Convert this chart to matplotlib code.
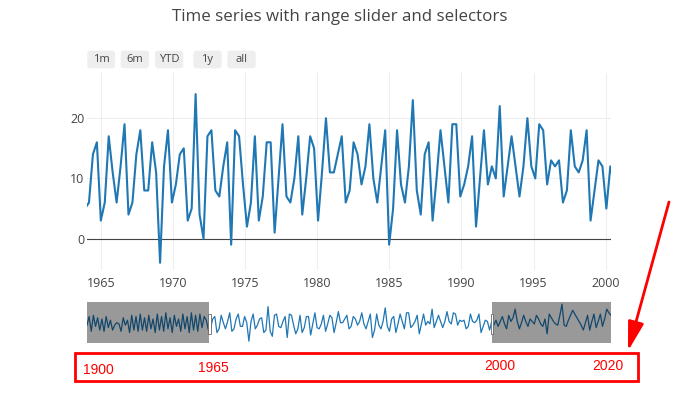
import matplotlib
matplotlib.use("Agg")
import matplotlib.pyplot as plt
import matplotlib.transforms as mtransforms
from matplotlib.patches import FancyBboxPatch, Rectangle, FancyArrowPatch
import numpy as np
import pandas as pd

plt.rcParams['font.family'] = ['Open Sans', 'DejaVu Sans']

# ---------------- data ----------------
title = "Time series with range slider and selectors"
start_date = "1948-04-22"
step = "100D"
values_early = [9, 16, 4, 17, 8, 15, 5, 14, 4, 16, 7, 13, 5, 9, 11, 10, 4, 15, 9, 13,
                3, 17, 5, 16, 4, 18, 5, 15, 4, 17, 6, 14, 3, 18, 5, 16, 4, 19, 6, 15,
                3, 17, 8, 14, 4, 18, 6, 16, 3, 19, 5, 17, 4, 18, 7, 16, 13, 5]
values_view = [6, 14, 16, 3, 6, 17, 11, 6, 12, 19, 4, 6, 14, 18, 8, 8, 16, 11, -4, 12,
               18, 6, 9, 14, 15, 3, 5, 24, 4, 0, 17, 18, 8, 7, 12, 16, -1, 18, 17, 9,
               2, 6, 17, 3,
               7, 16, 16, 1, 10, 19, 7, 6, 10, 17, 4, 10, 17, 15, 3, 11, 20, 11, 11, 14,
               17, 6, 8, 16, 14, 9, 12, 19, 10, 6, 12, 18, -1, 5, 18, 9, 6, 12, 23, 8,
               4, 14, 16,
               3, 10, 18, 12, 6, 19, 19, 7, 9, 12, 17, 2, 10, 18, 9, 12, 10, 22, 7, 12,
               17, 12, 7, 12, 20, 12, 10, 19, 18, 9, 13, 12, 13, 6, 8, 18, 12, 11, 13, 18,
               3, 8, 13, 12, 5, 12]
values_late = [9, 13, 8, 12, 16, 10, 6, 17, 12, 15, 22, 12, 6, 11, 17, 12, 8, 14, 12, 10,
               17, 14, 10, 8, 14, 2, 18, 15, 12, 10, 9, 17, 26, 9, 8, 13, 17, 21, 18, 15,
               12, 9, 5, 11, 17, 5, 12, 18, 7, 12, 18, 8, 14, 22, 19, 17]
view_start = "1964-01-19"
view_end = "2000-05-16"
x_tick_years = [1965, 1970, 1975, 1980, 1985, 1990, 1995, 2000]
y_ticks = [0, 10, 20]
y_range = (-5.2, 27.5)
buttons = ["1m", "6m", "YTD", "1y", "all"]
note_labels = ["1900", "1965", "2000", "2020"]

values = np.array(values_early + values_view + values_late, dtype=float)
dates = pd.date_range(start_date, periods=len(values), freq=step)

# ---------------- figure ----------------
W, H = 700, 394
fig = plt.figure(figsize=(W / 100, H / 100), dpi=100)
px = mtransforms.Affine2D().scale(1, -1).translate(0, H).scale(1 / W, 1 / H) + fig.transFigure

def fbox(x0, y0, x1, y1):
    return [x0 / W, 1 - y1 / H, (x1 - x0) / W, (y1 - y0) / H]

TXT = '#444444'
LINE = '#1f77b4'

# main axes
ax = fig.add_axes(fbox(87, 73, 611, 270))
ax.plot(dates, values, color=LINE, lw=1.5, solid_joinstyle='round', zorder=3)
ax.set_xlim(pd.Timestamp(view_start), pd.Timestamp(view_end))
ax.set_ylim(*y_range)
ax.set_yticks(y_ticks)
ax.set_yticklabels([str(v) for v in y_ticks])
ax.set_xticks(pd.to_datetime([f"{y}-01-01" for y in x_tick_years]))
ax.set_xticklabels([str(y) for y in x_tick_years])
ax.grid(True, color='#eeeeee', lw=0.8)
ax.set_axisbelow(True)
ax.axhline(0, color=TXT, lw=0.8, zorder=2)
for s in ax.spines.values():
    s.set_visible(False)
ax.tick_params(axis='both', length=0, labelsize=9, labelcolor=TXT)
ax.tick_params(axis='x', pad=5)
ax.tick_params(axis='y', pad=2)

# range slider
ax2 = fig.add_axes(fbox(87, 302.3, 611, 342.7))
ax2.plot(dates, values, color=LINE, lw=0.9, zorder=2)
ax2.set_xlim(dates[0], dates[-1])
ax2.set_ylim(*y_range)
ax2.axis('off')
ax2.axvspan(dates[0], pd.Timestamp(view_start), color='black', alpha=0.4, lw=0, zorder=3)
ax2.axvspan(pd.Timestamp(view_end), dates[-1], color='black', alpha=0.4, lw=0, zorder=3)
bt = mtransforms.blended_transform_factory(ax2.transData, ax2.transAxes)
for d in (pd.Timestamp(view_start), pd.Timestamp(view_end)):
    xd = matplotlib.dates.date2num(d)
    ax2.add_patch(Rectangle((xd - 60, 0.22), 120, 0.5, transform=bt,
                            facecolor='white', edgecolor='#666666', lw=0.6, zorder=4))

# title
fig.text(340, 17, title, transform=px, ha='center', va='center', fontsize=12.2, color=TXT)

# range selector buttons
bx = [(87.3, 115), (120.7, 149), (155, 183.3), (193.3, 221.7), (227.3, 255.7)]
for lab, (x0, x1) in zip(buttons, bx):
    fig.patches.append(FancyBboxPatch((x0, 50.7), x1 - x0, 17.6, transform=px,
                                      boxstyle='round,pad=0,rounding_size=3',
                                      facecolor='#eeeeee', edgecolor='none'))
    fig.text((x0 + x1) / 2, 59.5, lab, transform=px, ha='center', va='center',
             fontsize=8, color=TXT)

# red annotation
fig.patches.append(Rectangle((74.5, 353), 563.5, 27.5, transform=px, fill=False,
                             edgecolor='red', lw=2.0))
note_x = [98.7, 213.8, 500, 607.8]
note_y = [370, 368, 366, 366]
for lab, xx, yy in zip(note_labels, note_x, note_y):
    fig.text(xx, yy, lab, transform=px, ha='center', va='center', fontsize=10,
             color='red', family='Liberation Sans')
fig.patches.append(FancyArrowPatch((669, 202), (628, 351), transform=px,
                                   arrowstyle='-|>,head_length=1.1,head_width=0.3',
                                   mutation_scale=16, color='red', lw=2.0,
                                   shrinkA=0, shrinkB=0))

fig.savefig('out.png', dpi=100)
